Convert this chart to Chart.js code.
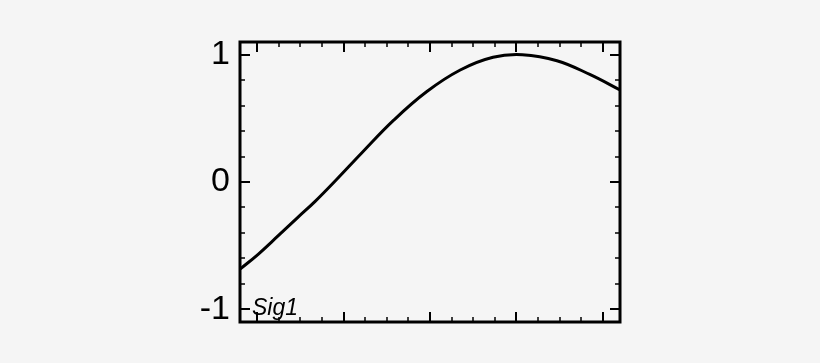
<!DOCTYPE html>
<html>
<head>
<meta charset="utf-8">
<script src="https://cdn.jsdelivr.net/npm/chart.js@4/dist/chart.umd.min.js"></script>
<style>
  body { margin: 0; background: #f5f5f5; }
  canvas { display: block; }
</style>
</head>
<body>
<canvas id="mycanvas" width="820" height="363"></canvas>
<script>
// values
var xValues = [-0.2, 0.01, 0.24, 0.47, 0.67, 0.91, 1.22, 1.58, 1.96, 2.35, 2.73, 3.07, 3.47, 3.85, 4.2];
var sig1 = [-0.685, -0.568, -0.424, -0.278, -0.152, 0.014, 0.236, 0.486, 0.709, 0.88, 0.98, 1.0, 0.953, 0.845, 0.723];
var yTickLabels = [-1, 0, 1];
var xMajorTicks = [0, 1, 2, 3, 4];
var seriesName = 'Sig1';

var points = [];
for (var i in xValues) {
	points.push({x: xValues[i], y: sig1[i]});
}

// frame with inward ticks on all four sides
var framePlugin = {
	id: 'frame',
	afterDatasetsDraw: function(chart) {
		var ctx = chart.ctx;
		var a = chart.chartArea;
		var xs = chart.scales.x;
		var ys = chart.scales.y;
		ctx.save();
		ctx.strokeStyle = '#000';
		// y ticks
		for (var v = -1; v <= 1.001; v += 0.2) {
			var major = Math.abs(v - Math.round(v)) < 0.001;
			var py = Math.round(ys.getPixelForValue(v));
			var len = major ? 10 : 5;
			ctx.lineWidth = major ? 2 : 1.5;
			ctx.beginPath();
			ctx.moveTo(a.left, py); ctx.lineTo(a.left + len, py);
			ctx.moveTo(a.right, py); ctx.lineTo(a.right - len, py);
			ctx.stroke();
		}
		// x ticks
		for (var t = -0.25; t <= 4.3; t += 0.25) {
			var px = xs.getPixelForValue(t);
			if (px < a.left + 2 || px > a.right - 2) continue;
			var isMajor = xMajorTicks.indexOf(Math.round(t * 100) / 100) >= 0;
			var l = isMajor ? 10 : 5;
			ctx.lineWidth = isMajor ? 2 : 1.5;
			px = Math.round(px);
			ctx.beginPath();
			ctx.moveTo(px, a.top); ctx.lineTo(px, a.top + l);
			ctx.moveTo(px, a.bottom); ctx.lineTo(px, a.bottom - l);
			ctx.stroke();
		}
		ctx.lineWidth = 3;
		ctx.strokeRect(a.left, a.top, a.right - a.left, a.bottom - a.top);
		// series name
		ctx.fillStyle = '#000';
		ctx.font = 'italic 23px "Liberation Sans", Arial, sans-serif';
		ctx.textBaseline = 'alphabetic';
		ctx.fillText(seriesName, a.left + 12, a.bottom - 7);
		ctx.restore();
	}
};

var ctx = document.getElementById('mycanvas');
var lineGraph = new Chart(ctx, {
	type: 'line',
	data: {
		datasets: [{
			label: seriesName,
			data: points,
			borderColor: '#000',
			borderWidth: 3,
			pointRadius: 0,
			tension: 0.4,
			fill: false
		}]
	},
	options: {
		responsive: false,
		animation: false,
		layout: { padding: { left: 180, right: 200, top: 42, bottom: 41 } },
		plugins: { legend: { display: false }, tooltip: { enabled: false } },
		scales: {
			x: {
				type: 'linear',
				min: -0.2,
				max: 4.2,
				display: false
			},
			y: {
				min: -1.1,
				max: 1.1,
				afterBuildTicks: function(scale) {
					scale.ticks = yTickLabels.map(function(v) { return {value: v}; });
				},
				afterFit: function(scale) { scale.width = 60; },
				grid: { display: false, drawTicks: false },
				border: { display: false },
				ticks: {
					color: '#000',
					padding: 10,
					font: { family: '"Liberation Sans", Arial, sans-serif', size: 34 }
				}
			}
		}
	},
	plugins: [framePlugin]
});
</script>
</body>
</html>
